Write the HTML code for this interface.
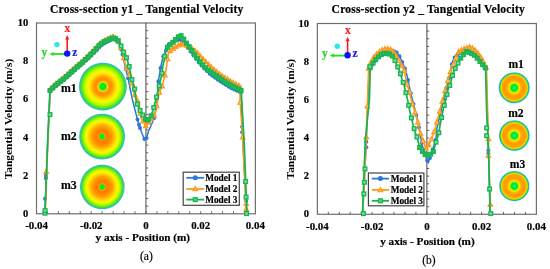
<!DOCTYPE html><html><head><meta charset="utf-8"><style>html,body{margin:0;padding:0;background:#fff;}svg{display:block;filter:blur(0.3px);font-family:"Liberation Serif",serif;}</style></head><body>
<svg width="550" height="269" viewBox="0 0 550 269">
<defs>
<radialGradient id="ga1">
<stop offset="0" stop-color="#00ea26"/><stop offset="0.13" stop-color="#10ea20"/><stop offset="0.19" stop-color="#f0e800"/>
<stop offset="0.24" stop-color="#ff9800"/><stop offset="0.34" stop-color="#ff8c00"/><stop offset="0.44" stop-color="#ffb000"/>
<stop offset="0.54" stop-color="#ffe000"/><stop offset="0.62" stop-color="#f8fa00"/><stop offset="0.72" stop-color="#d0fa00"/>
<stop offset="0.8" stop-color="#a0f400"/><stop offset="0.88" stop-color="#50e820"/><stop offset="0.93" stop-color="#30dc40"/><stop offset="0.965" stop-color="#30b8e0"/><stop offset="1" stop-color="#90d0f6"/>
</radialGradient>
<radialGradient id="ga2">
<stop offset="0" stop-color="#00ea26"/><stop offset="0.1" stop-color="#10ea20"/><stop offset="0.15" stop-color="#ffa000"/>
<stop offset="0.2" stop-color="#ff7c00"/><stop offset="0.32" stop-color="#ff8400"/><stop offset="0.46" stop-color="#ffa400"/>
<stop offset="0.58" stop-color="#ffd400"/><stop offset="0.68" stop-color="#f6fa00"/><stop offset="0.78" stop-color="#c0f800"/>
<stop offset="0.86" stop-color="#70ec10"/><stop offset="0.925" stop-color="#30dc40"/><stop offset="0.965" stop-color="#30b8e0"/><stop offset="1" stop-color="#90d0f6"/>
</radialGradient>
<radialGradient id="gb">
<stop offset="0" stop-color="#20f5c0"/><stop offset="0.1" stop-color="#00ee40"/><stop offset="0.22" stop-color="#00ea30"/>
<stop offset="0.29" stop-color="#c8ee00"/><stop offset="0.36" stop-color="#ffe000"/><stop offset="0.44" stop-color="#ffb000"/>
<stop offset="0.6" stop-color="#ff9800"/><stop offset="0.76" stop-color="#ffa400"/><stop offset="0.83" stop-color="#ffd000"/>
<stop offset="0.87" stop-color="#a0e800"/><stop offset="0.91" stop-color="#20d840"/><stop offset="0.95" stop-color="#20b0d8"/><stop offset="1" stop-color="#70c4f0"/>
</radialGradient>
</defs>
<rect width="550" height="269" fill="#fff"/>
<rect x="36.5" y="23" width="218.9" height="190.8" fill="none" stroke="#6f6f6f" stroke-width="1.2"/>
<line x1="145.95" y1="23" x2="145.95" y2="213.8" stroke="#5c5c5c" stroke-width="1.15"/>
<line x1="145.95" y1="30.63" x2="148.35" y2="30.63" stroke="#555" stroke-width="0.9"/>
<line x1="145.95" y1="38.26" x2="148.35" y2="38.26" stroke="#555" stroke-width="0.9"/>
<line x1="145.95" y1="45.9" x2="148.35" y2="45.9" stroke="#555" stroke-width="0.9"/>
<line x1="145.95" y1="53.53" x2="148.35" y2="53.53" stroke="#555" stroke-width="0.9"/>
<line x1="145.95" y1="61.16" x2="148.35" y2="61.16" stroke="#555" stroke-width="0.9"/>
<line x1="145.95" y1="68.79" x2="148.35" y2="68.79" stroke="#555" stroke-width="0.9"/>
<line x1="145.95" y1="76.42" x2="148.35" y2="76.42" stroke="#555" stroke-width="0.9"/>
<line x1="145.95" y1="84.06" x2="148.35" y2="84.06" stroke="#555" stroke-width="0.9"/>
<line x1="145.95" y1="91.69" x2="148.35" y2="91.69" stroke="#555" stroke-width="0.9"/>
<line x1="145.95" y1="99.32" x2="148.35" y2="99.32" stroke="#555" stroke-width="0.9"/>
<line x1="145.95" y1="106.95" x2="148.35" y2="106.95" stroke="#555" stroke-width="0.9"/>
<line x1="145.95" y1="114.58" x2="148.35" y2="114.58" stroke="#555" stroke-width="0.9"/>
<line x1="145.95" y1="122.22" x2="148.35" y2="122.22" stroke="#555" stroke-width="0.9"/>
<line x1="145.95" y1="129.85" x2="148.35" y2="129.85" stroke="#555" stroke-width="0.9"/>
<line x1="145.95" y1="137.48" x2="148.35" y2="137.48" stroke="#555" stroke-width="0.9"/>
<line x1="145.95" y1="145.11" x2="148.35" y2="145.11" stroke="#555" stroke-width="0.9"/>
<line x1="145.95" y1="152.74" x2="148.35" y2="152.74" stroke="#555" stroke-width="0.9"/>
<line x1="145.95" y1="160.38" x2="148.35" y2="160.38" stroke="#555" stroke-width="0.9"/>
<line x1="145.95" y1="168.01" x2="148.35" y2="168.01" stroke="#555" stroke-width="0.9"/>
<line x1="145.95" y1="175.64" x2="148.35" y2="175.64" stroke="#555" stroke-width="0.9"/>
<line x1="145.95" y1="183.27" x2="148.35" y2="183.27" stroke="#555" stroke-width="0.9"/>
<line x1="145.95" y1="190.9" x2="148.35" y2="190.9" stroke="#555" stroke-width="0.9"/>
<line x1="145.95" y1="198.54" x2="148.35" y2="198.54" stroke="#555" stroke-width="0.9"/>
<line x1="145.95" y1="206.17" x2="148.35" y2="206.17" stroke="#555" stroke-width="0.9"/>
<line x1="47.45" y1="213.8" x2="47.45" y2="211.3" stroke="#555" stroke-width="0.9"/>
<line x1="58.39" y1="213.8" x2="58.39" y2="211.3" stroke="#555" stroke-width="0.9"/>
<line x1="69.34" y1="213.8" x2="69.34" y2="211.3" stroke="#555" stroke-width="0.9"/>
<line x1="80.28" y1="213.8" x2="80.28" y2="211.3" stroke="#555" stroke-width="0.9"/>
<line x1="91.22" y1="213.8" x2="91.22" y2="211.3" stroke="#555" stroke-width="0.9"/>
<line x1="102.17" y1="213.8" x2="102.17" y2="211.3" stroke="#555" stroke-width="0.9"/>
<line x1="113.12" y1="213.8" x2="113.12" y2="211.3" stroke="#555" stroke-width="0.9"/>
<line x1="124.06" y1="213.8" x2="124.06" y2="211.3" stroke="#555" stroke-width="0.9"/>
<line x1="135" y1="213.8" x2="135" y2="211.3" stroke="#555" stroke-width="0.9"/>
<line x1="145.95" y1="213.8" x2="145.95" y2="211.3" stroke="#555" stroke-width="0.9"/>
<line x1="156.9" y1="213.8" x2="156.9" y2="211.3" stroke="#555" stroke-width="0.9"/>
<line x1="167.84" y1="213.8" x2="167.84" y2="211.3" stroke="#555" stroke-width="0.9"/>
<line x1="178.78" y1="213.8" x2="178.78" y2="211.3" stroke="#555" stroke-width="0.9"/>
<line x1="189.73" y1="213.8" x2="189.73" y2="211.3" stroke="#555" stroke-width="0.9"/>
<line x1="200.68" y1="213.8" x2="200.68" y2="211.3" stroke="#555" stroke-width="0.9"/>
<line x1="211.62" y1="213.8" x2="211.62" y2="211.3" stroke="#555" stroke-width="0.9"/>
<line x1="222.56" y1="213.8" x2="222.56" y2="211.3" stroke="#555" stroke-width="0.9"/>
<line x1="233.51" y1="213.8" x2="233.51" y2="211.3" stroke="#555" stroke-width="0.9"/>
<line x1="244.46" y1="213.8" x2="244.46" y2="211.3" stroke="#555" stroke-width="0.9"/>
<text x="28.3" y="216.9" font-size="10.5" font-weight="bold" text-anchor="end" fill="#000" stroke="#000" stroke-width="0.18" >0</text>
<text x="28.3" y="178.74" font-size="10.5" font-weight="bold" text-anchor="end" fill="#000" stroke="#000" stroke-width="0.18" >2</text>
<text x="28.3" y="140.58" font-size="10.5" font-weight="bold" text-anchor="end" fill="#000" stroke="#000" stroke-width="0.18" >4</text>
<text x="28.3" y="102.42" font-size="10.5" font-weight="bold" text-anchor="end" fill="#000" stroke="#000" stroke-width="0.18" >6</text>
<text x="28.3" y="64.26" font-size="10.5" font-weight="bold" text-anchor="end" fill="#000" stroke="#000" stroke-width="0.18" >8</text>
<text x="28.3" y="26.1" font-size="10.5" font-weight="bold" text-anchor="end" fill="#000" stroke="#000" stroke-width="0.18" >10</text>
<text x="36.5" y="228.8" font-size="10.9" font-weight="bold" text-anchor="middle" fill="#000" stroke="#000" stroke-width="0.18" >-0.04</text>
<text x="91.22" y="228.8" font-size="10.9" font-weight="bold" text-anchor="middle" fill="#000" stroke="#000" stroke-width="0.18" >-0.02</text>
<text x="145.95" y="228.8" font-size="10.9" font-weight="bold" text-anchor="middle" fill="#000" stroke="#000" stroke-width="0.18" >0</text>
<text x="200.68" y="228.8" font-size="10.9" font-weight="bold" text-anchor="middle" fill="#000" stroke="#000" stroke-width="0.18" >0.02</text>
<text x="255.4" y="228.8" font-size="10.9" font-weight="bold" text-anchor="middle" fill="#000" stroke="#000" stroke-width="0.18" >0.04</text>
<text transform="translate(11.5 119) rotate(-90)" x="0" y="0" font-size="11.4" font-weight="bold" text-anchor="middle">Tangential Velocity (m/s)</text>
<text x="95.6" y="241.1" font-size="11.2" font-weight="bold" text-anchor="start" fill="#000" stroke="#000" stroke-width="0.18" >y axis - Position (m)</text>
<text x="50" y="12.8" font-size="11.6" font-weight="bold" text-anchor="start" fill="#000" stroke="#000" stroke-width="0.18" letter-spacing="0.18">Cross-section y1 _ Tangential Velocity</text>
<text x="140" y="260.4" font-size="11.5" font-weight="normal" text-anchor="start" fill="#000" stroke="#000" stroke-width="0.18" >(a)</text>
<rect x="317.35" y="23.5" width="219.05" height="190.8" fill="none" stroke="#6f6f6f" stroke-width="1.2"/>
<line x1="426.88" y1="23.5" x2="426.88" y2="214.3" stroke="#5c5c5c" stroke-width="1.15"/>
<line x1="426.88" y1="31.13" x2="429.27" y2="31.13" stroke="#555" stroke-width="0.9"/>
<line x1="426.88" y1="38.76" x2="429.27" y2="38.76" stroke="#555" stroke-width="0.9"/>
<line x1="426.88" y1="46.4" x2="429.27" y2="46.4" stroke="#555" stroke-width="0.9"/>
<line x1="426.88" y1="54.03" x2="429.27" y2="54.03" stroke="#555" stroke-width="0.9"/>
<line x1="426.88" y1="61.66" x2="429.27" y2="61.66" stroke="#555" stroke-width="0.9"/>
<line x1="426.88" y1="69.29" x2="429.27" y2="69.29" stroke="#555" stroke-width="0.9"/>
<line x1="426.88" y1="76.92" x2="429.27" y2="76.92" stroke="#555" stroke-width="0.9"/>
<line x1="426.88" y1="84.56" x2="429.27" y2="84.56" stroke="#555" stroke-width="0.9"/>
<line x1="426.88" y1="92.19" x2="429.27" y2="92.19" stroke="#555" stroke-width="0.9"/>
<line x1="426.88" y1="99.82" x2="429.27" y2="99.82" stroke="#555" stroke-width="0.9"/>
<line x1="426.88" y1="107.45" x2="429.27" y2="107.45" stroke="#555" stroke-width="0.9"/>
<line x1="426.88" y1="115.08" x2="429.27" y2="115.08" stroke="#555" stroke-width="0.9"/>
<line x1="426.88" y1="122.72" x2="429.27" y2="122.72" stroke="#555" stroke-width="0.9"/>
<line x1="426.88" y1="130.35" x2="429.27" y2="130.35" stroke="#555" stroke-width="0.9"/>
<line x1="426.88" y1="137.98" x2="429.27" y2="137.98" stroke="#555" stroke-width="0.9"/>
<line x1="426.88" y1="145.61" x2="429.27" y2="145.61" stroke="#555" stroke-width="0.9"/>
<line x1="426.88" y1="153.24" x2="429.27" y2="153.24" stroke="#555" stroke-width="0.9"/>
<line x1="426.88" y1="160.88" x2="429.27" y2="160.88" stroke="#555" stroke-width="0.9"/>
<line x1="426.88" y1="168.51" x2="429.27" y2="168.51" stroke="#555" stroke-width="0.9"/>
<line x1="426.88" y1="176.14" x2="429.27" y2="176.14" stroke="#555" stroke-width="0.9"/>
<line x1="426.88" y1="183.77" x2="429.27" y2="183.77" stroke="#555" stroke-width="0.9"/>
<line x1="426.88" y1="191.4" x2="429.27" y2="191.4" stroke="#555" stroke-width="0.9"/>
<line x1="426.88" y1="199.04" x2="429.27" y2="199.04" stroke="#555" stroke-width="0.9"/>
<line x1="426.88" y1="206.67" x2="429.27" y2="206.67" stroke="#555" stroke-width="0.9"/>
<line x1="328.3" y1="214.3" x2="328.3" y2="211.8" stroke="#555" stroke-width="0.9"/>
<line x1="339.25" y1="214.3" x2="339.25" y2="211.8" stroke="#555" stroke-width="0.9"/>
<line x1="350.21" y1="214.3" x2="350.21" y2="211.8" stroke="#555" stroke-width="0.9"/>
<line x1="361.16" y1="214.3" x2="361.16" y2="211.8" stroke="#555" stroke-width="0.9"/>
<line x1="372.11" y1="214.3" x2="372.11" y2="211.8" stroke="#555" stroke-width="0.9"/>
<line x1="383.06" y1="214.3" x2="383.06" y2="211.8" stroke="#555" stroke-width="0.9"/>
<line x1="394.02" y1="214.3" x2="394.02" y2="211.8" stroke="#555" stroke-width="0.9"/>
<line x1="404.97" y1="214.3" x2="404.97" y2="211.8" stroke="#555" stroke-width="0.9"/>
<line x1="415.92" y1="214.3" x2="415.92" y2="211.8" stroke="#555" stroke-width="0.9"/>
<line x1="426.88" y1="214.3" x2="426.88" y2="211.8" stroke="#555" stroke-width="0.9"/>
<line x1="437.83" y1="214.3" x2="437.83" y2="211.8" stroke="#555" stroke-width="0.9"/>
<line x1="448.78" y1="214.3" x2="448.78" y2="211.8" stroke="#555" stroke-width="0.9"/>
<line x1="459.73" y1="214.3" x2="459.73" y2="211.8" stroke="#555" stroke-width="0.9"/>
<line x1="470.68" y1="214.3" x2="470.68" y2="211.8" stroke="#555" stroke-width="0.9"/>
<line x1="481.64" y1="214.3" x2="481.64" y2="211.8" stroke="#555" stroke-width="0.9"/>
<line x1="492.59" y1="214.3" x2="492.59" y2="211.8" stroke="#555" stroke-width="0.9"/>
<line x1="503.54" y1="214.3" x2="503.54" y2="211.8" stroke="#555" stroke-width="0.9"/>
<line x1="514.5" y1="214.3" x2="514.5" y2="211.8" stroke="#555" stroke-width="0.9"/>
<line x1="525.45" y1="214.3" x2="525.45" y2="211.8" stroke="#555" stroke-width="0.9"/>
<text x="309.1" y="217.3" font-size="10.5" font-weight="bold" text-anchor="end" fill="#000" stroke="#000" stroke-width="0.18" >0</text>
<text x="309.1" y="179.14" font-size="10.5" font-weight="bold" text-anchor="end" fill="#000" stroke="#000" stroke-width="0.18" >2</text>
<text x="309.1" y="140.98" font-size="10.5" font-weight="bold" text-anchor="end" fill="#000" stroke="#000" stroke-width="0.18" >4</text>
<text x="309.1" y="102.82" font-size="10.5" font-weight="bold" text-anchor="end" fill="#000" stroke="#000" stroke-width="0.18" >6</text>
<text x="309.1" y="64.66" font-size="10.5" font-weight="bold" text-anchor="end" fill="#000" stroke="#000" stroke-width="0.18" >8</text>
<text x="309.1" y="26.5" font-size="10.5" font-weight="bold" text-anchor="end" fill="#000" stroke="#000" stroke-width="0.18" >10</text>
<text x="317.35" y="229.8" font-size="10.9" font-weight="bold" text-anchor="middle" fill="#000" stroke="#000" stroke-width="0.18" >-0.04</text>
<text x="372.11" y="229.8" font-size="10.9" font-weight="bold" text-anchor="middle" fill="#000" stroke="#000" stroke-width="0.18" >-0.02</text>
<text x="426.88" y="229.8" font-size="10.9" font-weight="bold" text-anchor="middle" fill="#000" stroke="#000" stroke-width="0.18" >0</text>
<text x="481.64" y="229.8" font-size="10.9" font-weight="bold" text-anchor="middle" fill="#000" stroke="#000" stroke-width="0.18" >0.02</text>
<text x="536.4" y="229.8" font-size="10.9" font-weight="bold" text-anchor="middle" fill="#000" stroke="#000" stroke-width="0.18" >0.04</text>
<text transform="translate(294.4 119.2) rotate(-90)" x="0" y="0" font-size="11.4" font-weight="bold" text-anchor="middle">Tangential Velocity (m/s)</text>
<text x="380.2" y="244.9" font-size="11.2" font-weight="bold" text-anchor="start" fill="#000" stroke="#000" stroke-width="0.18" >y axis - Position (m)</text>
<text x="331.6" y="12.8" font-size="11.6" font-weight="bold" text-anchor="start" fill="#000" stroke="#000" stroke-width="0.18" letter-spacing="0.18">Cross-section y2 _ Tangential Velocity</text>
<text x="422.2" y="263.6" font-size="11.5" font-weight="normal" text-anchor="start" fill="#000" stroke="#000" stroke-width="0.18" >(b)</text>
<circle cx="102.9" cy="86.6" r="24.1" fill="url(#ga1)"/>
<circle cx="102.1" cy="136.6" r="23.1" fill="url(#ga2)"/>
<circle cx="102.3" cy="187.0" r="22.5" fill="url(#ga2)"/>
<text x="61" y="91.7" font-size="11.8" font-weight="bold" text-anchor="start" fill="#000" stroke="#000" stroke-width="0.18" >m1</text>
<text x="61" y="140.3" font-size="11.8" font-weight="bold" text-anchor="start" fill="#000" stroke="#000" stroke-width="0.18" >m2</text>
<text x="61" y="189" font-size="11.8" font-weight="bold" text-anchor="start" fill="#000" stroke="#000" stroke-width="0.18" >m3</text>
<circle cx="514.2" cy="87.8" r="15.6" fill="url(#gb)"/>
<circle cx="514.3" cy="135.6" r="15.4" fill="url(#gb)"/>
<circle cx="514.3" cy="186.1" r="15.2" fill="url(#gb)"/>
<text x="508.4" y="67.9" font-size="11.6" font-weight="bold" text-anchor="start" fill="#000" stroke="#000" stroke-width="0.18" >m1</text>
<text x="508.2" y="117" font-size="11.6" font-weight="bold" text-anchor="start" fill="#000" stroke="#000" stroke-width="0.18" >m2</text>
<text x="509.8" y="168" font-size="11.6" font-weight="bold" text-anchor="start" fill="#000" stroke="#000" stroke-width="0.18" >m3</text>
<line x1="67.2" y1="53.6" x2="67.2" y2="38.6" stroke="#ff1a1a" stroke-width="1.6"/>
<path d="M67.2 35.1L65.2 39.6L69.2 39.6Z" fill="#ff1a1a"/>
<line x1="67.2" y1="54" x2="53.2" y2="54" stroke="#19e619" stroke-width="1.8"/>
<path d="M49.6 54L53.7 52L53.7 56Z" fill="#19e619"/>
<circle cx="67.2" cy="53.6" r="3.2" fill="#0a14f0"/>
<circle cx="56.9" cy="44.6" r="2.7" fill="#2ee6f2"/>
<text x="64.6" y="32.4" font-size="11.5" font-weight="bold" text-anchor="start" fill="#ff1a1a" stroke="#ff1a1a" stroke-width="0.18" >x</text>
<text x="72.2" y="55.7" font-size="11.5" font-weight="bold" text-anchor="start" fill="#1a1aee" stroke="#1a1aee" stroke-width="0.18" >z</text>
<text x="41.6" y="55.7" font-size="11.5" font-weight="bold" text-anchor="start" fill="#19d619" stroke="#19d619" stroke-width="0.18" >y</text>
<line x1="347.6" y1="55.2" x2="347.6" y2="40.2" stroke="#ff1a1a" stroke-width="1.6"/>
<path d="M347.6 36.7L345.6 41.2L349.6 41.2Z" fill="#ff1a1a"/>
<line x1="347.6" y1="55.6" x2="333.6" y2="55.6" stroke="#19e619" stroke-width="1.8"/>
<path d="M330 55.6L334.1 53.6L334.1 57.6Z" fill="#19e619"/>
<circle cx="347.6" cy="55.2" r="3.2" fill="#0a14f0"/>
<circle cx="337.3" cy="46.2" r="2.7" fill="#2ee6f2"/>
<text x="345" y="34" font-size="11.5" font-weight="bold" text-anchor="start" fill="#ff1a1a" stroke="#ff1a1a" stroke-width="0.18" >x</text>
<text x="352.6" y="57.3" font-size="11.5" font-weight="bold" text-anchor="start" fill="#1a1aee" stroke="#1a1aee" stroke-width="0.18" >z</text>
<text x="322" y="57.3" font-size="11.5" font-weight="bold" text-anchor="start" fill="#19d619" stroke="#19d619" stroke-width="0.18" >y</text>

<polyline fill="none" stroke="#2b78d8" stroke-width="1.5" stroke-linejoin="round" points="45,213.3 47.6,145 50,91 55.4,86.6 63.2,80.6 70,74.6 76.7,68.6 83.4,63 90.1,56.8 95.5,51.5 99.5,47 103.9,43.5 108.4,41.2 112.5,39.3 116,40 119.5,44 122.5,54.5 125.8,69 128.1,78.3 130,88 132.5,100 135,110 137.5,119.5 139,124.7 140,128 142.2,134 144.4,139 146.4,138.2 148.6,131 151.5,124.5 153.9,118.3 155.5,111 156.7,106 157.5,95 158.4,81.2 160.5,68 163,57 166.7,49 168.6,44.6 173.4,42.2 179.3,39.5 184.7,43.5 190.6,51.5 198.1,61.5 204,68.2 210,74.2 217.4,79.4 224.9,84.4 232.3,88.8 241,92.5 242.1,126.7 246.6,213.3"/>
<circle cx="50" cy="91" r="2.0" fill="#2b78d8"/>
<circle cx="52.73" cy="88.78" r="2.0" fill="#2b78d8"/>
<circle cx="55.46" cy="86.55" r="2.0" fill="#2b78d8"/>
<circle cx="58.19" cy="84.45" r="2.0" fill="#2b78d8"/>
<circle cx="60.92" cy="82.35" r="2.0" fill="#2b78d8"/>
<circle cx="63.65" cy="80.2" r="2.0" fill="#2b78d8"/>
<circle cx="66.38" cy="77.79" r="2.0" fill="#2b78d8"/>
<circle cx="69.11" cy="75.39" r="2.0" fill="#2b78d8"/>
<circle cx="71.84" cy="72.95" r="2.0" fill="#2b78d8"/>
<circle cx="74.57" cy="70.51" r="2.0" fill="#2b78d8"/>
<circle cx="77.3" cy="68.1" r="2.0" fill="#2b78d8"/>
<circle cx="80.03" cy="65.82" r="2.0" fill="#2b78d8"/>
<circle cx="82.76" cy="63.53" r="2.0" fill="#2b78d8"/>
<circle cx="85.49" cy="61.07" r="2.0" fill="#2b78d8"/>
<circle cx="88.22" cy="58.54" r="2.0" fill="#2b78d8"/>
<circle cx="90.95" cy="55.97" r="2.0" fill="#2b78d8"/>
<circle cx="93.68" cy="53.29" r="2.0" fill="#2b78d8"/>
<circle cx="96.41" cy="50.48" r="2.0" fill="#2b78d8"/>
<circle cx="99.14" cy="47.41" r="2.0" fill="#2b78d8"/>
<circle cx="101.87" cy="45.11" r="2.0" fill="#2b78d8"/>
<circle cx="104.6" cy="43.14" r="2.0" fill="#2b78d8"/>
<circle cx="107.33" cy="41.75" r="2.0" fill="#2b78d8"/>
<circle cx="110.06" cy="40.43" r="2.0" fill="#2b78d8"/>
<circle cx="112.79" cy="39.36" r="2.0" fill="#2b78d8"/>
<circle cx="115.52" cy="39.9" r="2.0" fill="#2b78d8"/>
<circle cx="118.25" cy="42.57" r="2.0" fill="#2b78d8"/>
<circle cx="120.98" cy="49.18" r="2.0" fill="#2b78d8"/>
<circle cx="122.5" cy="54.5" r="2.0" fill="#2b78d8"/>
<circle cx="160.5" cy="68" r="2.0" fill="#2b78d8"/>
<circle cx="163.23" cy="56.5" r="2.0" fill="#2b78d8"/>
<circle cx="165.96" cy="50.6" r="2.0" fill="#2b78d8"/>
<circle cx="168.69" cy="44.55" r="2.0" fill="#2b78d8"/>
<circle cx="171.42" cy="43.19" r="2.0" fill="#2b78d8"/>
<circle cx="174.15" cy="41.86" r="2.0" fill="#2b78d8"/>
<circle cx="176.88" cy="40.61" r="2.0" fill="#2b78d8"/>
<circle cx="179.61" cy="39.73" r="2.0" fill="#2b78d8"/>
<circle cx="182.34" cy="41.75" r="2.0" fill="#2b78d8"/>
<circle cx="185.07" cy="44" r="2.0" fill="#2b78d8"/>
<circle cx="187.8" cy="47.7" r="2.0" fill="#2b78d8"/>
<circle cx="190.53" cy="51.41" r="2.0" fill="#2b78d8"/>
<circle cx="193.26" cy="55.05" r="2.0" fill="#2b78d8"/>
<circle cx="195.99" cy="58.69" r="2.0" fill="#2b78d8"/>
<circle cx="198.72" cy="62.2" r="2.0" fill="#2b78d8"/>
<circle cx="201.45" cy="65.3" r="2.0" fill="#2b78d8"/>
<circle cx="204.18" cy="68.38" r="2.0" fill="#2b78d8"/>
<circle cx="206.91" cy="71.11" r="2.0" fill="#2b78d8"/>
<circle cx="209.64" cy="73.84" r="2.0" fill="#2b78d8"/>
<circle cx="212.37" cy="75.87" r="2.0" fill="#2b78d8"/>
<circle cx="215.1" cy="77.78" r="2.0" fill="#2b78d8"/>
<circle cx="217.83" cy="79.69" r="2.0" fill="#2b78d8"/>
<circle cx="220.56" cy="81.51" r="2.0" fill="#2b78d8"/>
<circle cx="223.29" cy="83.33" r="2.0" fill="#2b78d8"/>
<circle cx="226.02" cy="85.07" r="2.0" fill="#2b78d8"/>
<circle cx="228.75" cy="86.69" r="2.0" fill="#2b78d8"/>
<circle cx="231.48" cy="88.31" r="2.0" fill="#2b78d8"/>
<circle cx="234.21" cy="89.61" r="2.0" fill="#2b78d8"/>
<circle cx="236.94" cy="90.77" r="2.0" fill="#2b78d8"/>
<circle cx="239.67" cy="91.93" r="2.0" fill="#2b78d8"/>
<circle cx="241" cy="92.5" r="2.0" fill="#2b78d8"/>
<circle cx="45.9" cy="175.7" r="2.0" fill="#2b78d8"/>
<circle cx="45.9" cy="178.3" r="2.0" fill="#2b78d8"/>
<circle cx="45" cy="198.7" r="2.0" fill="#2b78d8"/>
<circle cx="242.1" cy="126.7" r="2.0" fill="#2b78d8"/>
<circle cx="242.1" cy="132.3" r="2.0" fill="#2b78d8"/>
<circle cx="246.2" cy="201" r="2.0" fill="#2b78d8"/>
<circle cx="125.8" cy="69" r="2.0" fill="#2b78d8"/>
<circle cx="128.1" cy="78.3" r="2.0" fill="#2b78d8"/>
<circle cx="137.5" cy="119.5" r="2.0" fill="#2b78d8"/>
<circle cx="139" cy="124.7" r="2.0" fill="#2b78d8"/>
<circle cx="140" cy="128" r="2.0" fill="#2b78d8"/>
<circle cx="144.4" cy="139" r="2.0" fill="#2b78d8"/>
<circle cx="146.4" cy="138.2" r="2.0" fill="#2b78d8"/>
<circle cx="153.9" cy="118.3" r="2.0" fill="#2b78d8"/>
<circle cx="156.7" cy="106" r="2.0" fill="#2b78d8"/>
<circle cx="158.4" cy="81.2" r="2.0" fill="#2b78d8"/>

<polyline fill="none" stroke="#fb9a1c" stroke-width="1.6" stroke-linejoin="round" points="45.2,213.3 47.8,145 50.2,89.3 55.4,84.2 63.2,78.1 70,72.1 76.7,66.1 83.4,60.4 90.1,53.9 95.5,48.3 99.5,43.8 103.9,40.8 108.4,38.8 113.5,36.5 117.3,39.3 120.1,44.5 122.5,52 124.1,58.9 125.2,64.5 128.6,73.4 131.5,80 133.6,92 136.5,99 139.4,104 139.8,111.2 141.4,118.5 144.7,124 145.8,126.2 149.2,121.7 152,117.5 154.8,114.5 157.2,104 159.2,93 162.1,86.4 165.8,71.5 168.4,53.5 171.8,49.3 175.9,46.8 180.1,44.2 184.3,44.2 190,47.5 196.4,51.8 201.5,57.5 206.5,62.5 210,66.2 217.4,72.5 224.9,77.8 232.3,82.2 239.7,86.5 240.2,102.5 242.6,137.2 246.4,213.3"/>
<path d="M50.2 86.87L47.95 90.92L52.45 90.92Z" fill="#fca13a" stroke="#fb9a1c" stroke-width="1.2"/>
<path d="M52.93 84.19L50.68 88.24L55.18 88.24Z" fill="#fca13a" stroke="#fb9a1c" stroke-width="1.2"/>
<path d="M55.66 81.57L53.41 85.62L57.91 85.62Z" fill="#fca13a" stroke="#fb9a1c" stroke-width="1.2"/>
<path d="M58.39 79.43L56.14 83.48L60.64 83.48Z" fill="#fca13a" stroke="#fb9a1c" stroke-width="1.2"/>
<path d="M61.12 77.3L58.87 81.35L63.37 81.35Z" fill="#fca13a" stroke="#fb9a1c" stroke-width="1.2"/>
<path d="M63.85 75.1L61.6 79.15L66.1 79.15Z" fill="#fca13a" stroke="#fb9a1c" stroke-width="1.2"/>
<path d="M66.58 72.69L64.33 76.74L68.83 76.74Z" fill="#fca13a" stroke="#fb9a1c" stroke-width="1.2"/>
<path d="M69.31 70.28L67.06 74.33L71.56 74.33Z" fill="#fca13a" stroke="#fb9a1c" stroke-width="1.2"/>
<path d="M72.04 67.84L69.79 71.89L74.29 71.89Z" fill="#fca13a" stroke="#fb9a1c" stroke-width="1.2"/>
<path d="M74.77 65.4L72.52 69.45L77.02 69.45Z" fill="#fca13a" stroke="#fb9a1c" stroke-width="1.2"/>
<path d="M77.5 62.99L75.25 67.04L79.75 67.04Z" fill="#fca13a" stroke="#fb9a1c" stroke-width="1.2"/>
<path d="M80.23 60.67L77.98 64.72L82.48 64.72Z" fill="#fca13a" stroke="#fb9a1c" stroke-width="1.2"/>
<path d="M82.96 58.34L80.71 62.39L85.21 62.39Z" fill="#fca13a" stroke="#fb9a1c" stroke-width="1.2"/>
<path d="M85.69 55.75L83.44 59.8L87.94 59.8Z" fill="#fca13a" stroke="#fb9a1c" stroke-width="1.2"/>
<path d="M88.42 53.1L86.17 57.15L90.67 57.15Z" fill="#fca13a" stroke="#fb9a1c" stroke-width="1.2"/>
<path d="M91.15 50.38L88.9 54.43L93.4 54.43Z" fill="#fca13a" stroke="#fb9a1c" stroke-width="1.2"/>
<path d="M93.88 47.55L91.63 51.6L96.13 51.6Z" fill="#fca13a" stroke="#fb9a1c" stroke-width="1.2"/>
<path d="M96.61 44.62L94.36 48.67L98.86 48.67Z" fill="#fca13a" stroke="#fb9a1c" stroke-width="1.2"/>
<path d="M99.34 41.55L97.09 45.6L101.59 45.6Z" fill="#fca13a" stroke="#fb9a1c" stroke-width="1.2"/>
<path d="M102.07 39.62L99.82 43.67L104.32 43.67Z" fill="#fca13a" stroke="#fb9a1c" stroke-width="1.2"/>
<path d="M104.8 37.97L102.55 42.02L107.05 42.02Z" fill="#fca13a" stroke="#fb9a1c" stroke-width="1.2"/>
<path d="M107.53 36.76L105.28 40.81L109.78 40.81Z" fill="#fca13a" stroke="#fb9a1c" stroke-width="1.2"/>
<path d="M110.26 35.53L108.01 39.58L112.51 39.58Z" fill="#fca13a" stroke="#fb9a1c" stroke-width="1.2"/>
<path d="M112.99 34.3L110.74 38.35L115.24 38.35Z" fill="#fca13a" stroke="#fb9a1c" stroke-width="1.2"/>
<path d="M115.72 35.71L113.47 39.76L117.97 39.76Z" fill="#fca13a" stroke="#fb9a1c" stroke-width="1.2"/>
<path d="M118.45 39.01L116.2 43.06L120.7 43.06Z" fill="#fca13a" stroke="#fb9a1c" stroke-width="1.2"/>
<path d="M121.18 45.45L118.93 49.5L123.43 49.5Z" fill="#ffc772" stroke="#fb9a1c" stroke-width="1.2"/>
<path d="M123.91 55.65L121.66 59.7L126.16 59.7Z" fill="#ffc772" stroke="#fb9a1c" stroke-width="1.2"/>
<path d="M126.64 65.84L124.39 69.89L128.89 69.89Z" fill="#ffc772" stroke="#fb9a1c" stroke-width="1.2"/>
<path d="M129.37 72.72L127.12 76.77L131.62 76.77Z" fill="#ffc772" stroke="#fb9a1c" stroke-width="1.2"/>
<path d="M132.1 81L129.85 85.05L134.35 85.05Z" fill="#ffc772" stroke="#fb9a1c" stroke-width="1.2"/>
<path d="M134.83 92.54L132.58 96.59L137.08 96.59Z" fill="#ffc772" stroke="#fb9a1c" stroke-width="1.2"/>
<path d="M137.56 98.4L135.31 102.45L139.81 102.45Z" fill="#ffc772" stroke="#fb9a1c" stroke-width="1.2"/>
<path d="M140.29 111.01L138.04 115.06L142.54 115.06Z" fill="#ffc772" stroke="#fb9a1c" stroke-width="1.2"/>
<path d="M143.02 118.77L140.77 122.82L145.27 122.82Z" fill="#ffc772" stroke="#fb9a1c" stroke-width="1.2"/>
<path d="M145.75 123.67L143.5 127.72L148 127.72Z" fill="#fca13a" stroke="#fb9a1c" stroke-width="1.2"/>
<path d="M148.48 120.22L146.23 124.27L150.73 124.27Z" fill="#fca13a" stroke="#fb9a1c" stroke-width="1.2"/>
<path d="M151.21 116.25L148.96 120.3L153.46 120.3Z" fill="#fca13a" stroke="#fb9a1c" stroke-width="1.2"/>
<path d="M153.94 112.99L151.69 117.04L156.19 117.04Z" fill="#fca13a" stroke="#fb9a1c" stroke-width="1.2"/>
<path d="M156.67 103.89L154.42 107.94L158.92 107.94Z" fill="#ffc772" stroke="#fb9a1c" stroke-width="1.2"/>
<path d="M159.4 90.11L157.15 94.16L161.65 94.16Z" fill="#ffc772" stroke="#fb9a1c" stroke-width="1.2"/>
<path d="M162.13 83.85L159.88 87.9L164.38 87.9Z" fill="#ffc772" stroke="#fb9a1c" stroke-width="1.2"/>
<path d="M164.86 72.86L162.61 76.91L167.11 76.91Z" fill="#ffc772" stroke="#fb9a1c" stroke-width="1.2"/>
<path d="M167.59 56.68L165.34 60.73L169.84 60.73Z" fill="#ffc772" stroke="#fb9a1c" stroke-width="1.2"/>
<path d="M170.32 48.7L168.07 52.75L172.57 52.75Z" fill="#fca13a" stroke="#fb9a1c" stroke-width="1.2"/>
<path d="M173.05 46.11L170.8 50.16L175.3 50.16Z" fill="#fca13a" stroke="#fb9a1c" stroke-width="1.2"/>
<path d="M175.78 44.44L173.53 48.49L178.03 48.49Z" fill="#fca13a" stroke="#fb9a1c" stroke-width="1.2"/>
<path d="M178.51 42.75L176.26 46.8L180.76 46.8Z" fill="#fca13a" stroke="#fb9a1c" stroke-width="1.2"/>
<path d="M181.24 41.77L178.99 45.82L183.49 45.82Z" fill="#fca13a" stroke="#fb9a1c" stroke-width="1.2"/>
<path d="M183.97 41.77L181.72 45.82L186.22 45.82Z" fill="#fca13a" stroke="#fb9a1c" stroke-width="1.2"/>
<path d="M186.7 43.16L184.45 47.21L188.95 47.21Z" fill="#fca13a" stroke="#fb9a1c" stroke-width="1.2"/>
<path d="M189.43 44.74L187.18 48.79L191.68 48.79Z" fill="#fca13a" stroke="#fb9a1c" stroke-width="1.2"/>
<path d="M192.16 46.52L189.91 50.57L194.41 50.57Z" fill="#fca13a" stroke="#fb9a1c" stroke-width="1.2"/>
<path d="M194.89 48.36L192.64 52.41L197.14 52.41Z" fill="#fca13a" stroke="#fb9a1c" stroke-width="1.2"/>
<path d="M197.62 50.73L195.37 54.78L199.87 54.78Z" fill="#fca13a" stroke="#fb9a1c" stroke-width="1.2"/>
<path d="M200.35 53.78L198.1 57.83L202.6 57.83Z" fill="#fca13a" stroke="#fb9a1c" stroke-width="1.2"/>
<path d="M203.08 56.65L200.83 60.7L205.33 60.7Z" fill="#fca13a" stroke="#fb9a1c" stroke-width="1.2"/>
<path d="M205.81 59.38L203.56 63.43L208.06 63.43Z" fill="#fca13a" stroke="#fb9a1c" stroke-width="1.2"/>
<path d="M208.54 62.23L206.29 66.28L210.79 66.28Z" fill="#fca13a" stroke="#fb9a1c" stroke-width="1.2"/>
<path d="M211.27 64.85L209.02 68.9L213.52 68.9Z" fill="#fca13a" stroke="#fb9a1c" stroke-width="1.2"/>
<path d="M214 67.18L211.75 71.23L216.25 71.23Z" fill="#fca13a" stroke="#fb9a1c" stroke-width="1.2"/>
<path d="M216.73 69.5L214.48 73.55L218.98 73.55Z" fill="#fca13a" stroke="#fb9a1c" stroke-width="1.2"/>
<path d="M219.46 71.53L217.21 75.58L221.71 75.58Z" fill="#fca13a" stroke="#fb9a1c" stroke-width="1.2"/>
<path d="M222.19 73.45L219.94 77.5L224.44 77.5Z" fill="#fca13a" stroke="#fb9a1c" stroke-width="1.2"/>
<path d="M224.92 75.38L222.67 79.43L227.17 79.43Z" fill="#fca13a" stroke="#fb9a1c" stroke-width="1.2"/>
<path d="M227.65 77.01L225.4 81.06L229.9 81.06Z" fill="#fca13a" stroke="#fb9a1c" stroke-width="1.2"/>
<path d="M230.38 78.63L228.13 82.68L232.63 82.68Z" fill="#fca13a" stroke="#fb9a1c" stroke-width="1.2"/>
<path d="M233.11 80.24L230.86 84.29L235.36 84.29Z" fill="#fca13a" stroke="#fb9a1c" stroke-width="1.2"/>
<path d="M235.84 81.83L233.59 85.88L238.09 85.88Z" fill="#fca13a" stroke="#fb9a1c" stroke-width="1.2"/>
<path d="M238.57 83.41L236.32 87.46L240.82 87.46Z" fill="#fca13a" stroke="#fb9a1c" stroke-width="1.2"/>
<path d="M239.7 84.07L237.45 88.12L241.95 88.12Z" fill="#fca13a" stroke="#fb9a1c" stroke-width="1.2"/>
<path d="M46.2 169.37L43.95 173.42L48.45 173.42Z" fill="#ffc772" stroke="#fb9a1c" stroke-width="1.2"/>
<path d="M240.2 100.07L237.95 104.12L242.45 104.12Z" fill="#ffc772" stroke="#fb9a1c" stroke-width="1.2"/>
<path d="M242.6 134.77L240.35 138.82L244.85 138.82Z" fill="#ffc772" stroke="#fb9a1c" stroke-width="1.2"/>
<path d="M246.3 201.37L244.05 205.42L248.55 205.42Z" fill="#ffc772" stroke="#fb9a1c" stroke-width="1.2"/>
<path d="M246.3 206.77L244.05 210.82L248.55 210.82Z" fill="#ffc772" stroke="#fb9a1c" stroke-width="1.2"/>

<polyline fill="none" stroke="#16b450" stroke-width="1.7" stroke-linejoin="round" points="44.9,213.3 47.5,145 50,90.5 55.4,85.4 63.2,79.3 70,73.3 76.7,67.3 83.4,61.5 90.1,55 95.5,49.5 99.5,45 103.9,41.8 108.4,39.8 112.3,37.8 117.3,39.1 120.1,43.6 122.5,50 125.8,55.6 127.5,61.1 129.1,66.2 130.3,72.3 132,80 134.5,88 135.8,98.7 137.6,105 139.4,109.4 141.4,112.5 144.7,118.4 147,121.2 150.3,117.8 153.1,110 155.5,101 158.7,88 161.7,75 163,65 164.2,60.2 165,53.5 167.6,46.8 171.8,43.4 175.9,39.2 180.1,35 182.6,36.7 184.7,40.9 190.6,48.4 194.8,55.1 201.5,63.5 207.3,69.4 210,71.2 217.4,76.4 224.9,81.6 232.3,86 241.2,90.5 244.3,145 246.9,213.3"/>
<rect x="48.15" y="88.65" width="3.7" height="3.7" fill="#2cba5e" stroke="#16b450" stroke-width="1.3"/>
<rect x="50.88" y="86.07" width="3.7" height="3.7" fill="#2cba5e" stroke="#16b450" stroke-width="1.3"/>
<rect x="53.61" y="83.5" width="3.7" height="3.7" fill="#2cba5e" stroke="#16b450" stroke-width="1.3"/>
<rect x="56.34" y="81.37" width="3.7" height="3.7" fill="#2cba5e" stroke="#16b450" stroke-width="1.3"/>
<rect x="59.07" y="79.23" width="3.7" height="3.7" fill="#2cba5e" stroke="#16b450" stroke-width="1.3"/>
<rect x="61.8" y="77.05" width="3.7" height="3.7" fill="#2cba5e" stroke="#16b450" stroke-width="1.3"/>
<rect x="64.53" y="74.64" width="3.7" height="3.7" fill="#2cba5e" stroke="#16b450" stroke-width="1.3"/>
<rect x="67.26" y="72.24" width="3.7" height="3.7" fill="#2cba5e" stroke="#16b450" stroke-width="1.3"/>
<rect x="69.99" y="69.8" width="3.7" height="3.7" fill="#2cba5e" stroke="#16b450" stroke-width="1.3"/>
<rect x="72.72" y="67.36" width="3.7" height="3.7" fill="#2cba5e" stroke="#16b450" stroke-width="1.3"/>
<rect x="75.45" y="64.93" width="3.7" height="3.7" fill="#2cba5e" stroke="#16b450" stroke-width="1.3"/>
<rect x="78.18" y="62.57" width="3.7" height="3.7" fill="#2cba5e" stroke="#16b450" stroke-width="1.3"/>
<rect x="80.91" y="60.2" width="3.7" height="3.7" fill="#2cba5e" stroke="#16b450" stroke-width="1.3"/>
<rect x="83.64" y="57.62" width="3.7" height="3.7" fill="#2cba5e" stroke="#16b450" stroke-width="1.3"/>
<rect x="86.37" y="54.97" width="3.7" height="3.7" fill="#2cba5e" stroke="#16b450" stroke-width="1.3"/>
<rect x="89.1" y="52.28" width="3.7" height="3.7" fill="#2cba5e" stroke="#16b450" stroke-width="1.3"/>
<rect x="91.83" y="49.5" width="3.7" height="3.7" fill="#2cba5e" stroke="#16b450" stroke-width="1.3"/>
<rect x="94.56" y="46.63" width="3.7" height="3.7" fill="#2cba5e" stroke="#16b450" stroke-width="1.3"/>
<rect x="97.29" y="43.55" width="3.7" height="3.7" fill="#2cba5e" stroke="#16b450" stroke-width="1.3"/>
<rect x="100.02" y="41.43" width="3.7" height="3.7" fill="#2cba5e" stroke="#16b450" stroke-width="1.3"/>
<rect x="102.75" y="39.64" width="3.7" height="3.7" fill="#2cba5e" stroke="#16b450" stroke-width="1.3"/>
<rect x="105.48" y="38.43" width="3.7" height="3.7" fill="#2cba5e" stroke="#16b450" stroke-width="1.3"/>
<rect x="108.21" y="37.1" width="3.7" height="3.7" fill="#2cba5e" stroke="#16b450" stroke-width="1.3"/>
<rect x="110.94" y="36.08" width="3.7" height="3.7" fill="#2cba5e" stroke="#16b450" stroke-width="1.3"/>
<rect x="113.67" y="36.79" width="3.7" height="3.7" fill="#2cba5e" stroke="#16b450" stroke-width="1.3"/>
<rect x="116.4" y="38.78" width="3.7" height="3.7" fill="#2cba5e" stroke="#16b450" stroke-width="1.3"/>
<rect x="119.13" y="44.1" width="3.7" height="3.7" fill="#86d8a2" stroke="#16b450" stroke-width="1.3"/>
<rect x="121.86" y="50.2" width="3.7" height="3.7" fill="#86d8a2" stroke="#16b450" stroke-width="1.3"/>
<rect x="124.59" y="55.82" width="3.7" height="3.7" fill="#86d8a2" stroke="#16b450" stroke-width="1.3"/>
<rect x="127.32" y="64.71" width="3.7" height="3.7" fill="#86d8a2" stroke="#16b450" stroke-width="1.3"/>
<rect x="130.05" y="77.7" width="3.7" height="3.7" fill="#86d8a2" stroke="#16b450" stroke-width="1.3"/>
<rect x="132.78" y="87.22" width="3.7" height="3.7" fill="#86d8a2" stroke="#16b450" stroke-width="1.3"/>
<rect x="135.51" y="102.31" width="3.7" height="3.7" fill="#86d8a2" stroke="#16b450" stroke-width="1.3"/>
<rect x="138.24" y="108.62" width="3.7" height="3.7" fill="#86d8a2" stroke="#16b450" stroke-width="1.3"/>
<rect x="140.97" y="113.19" width="3.7" height="3.7" fill="#86d8a2" stroke="#16b450" stroke-width="1.3"/>
<rect x="143.7" y="117.58" width="3.7" height="3.7" fill="#2cba5e" stroke="#16b450" stroke-width="1.3"/>
<rect x="146.43" y="118.03" width="3.7" height="3.7" fill="#2cba5e" stroke="#16b450" stroke-width="1.3"/>
<rect x="149.16" y="113.97" width="3.7" height="3.7" fill="#2cba5e" stroke="#16b450" stroke-width="1.3"/>
<rect x="151.89" y="105.75" width="3.7" height="3.7" fill="#86d8a2" stroke="#16b450" stroke-width="1.3"/>
<rect x="154.62" y="95.21" width="3.7" height="3.7" fill="#86d8a2" stroke="#16b450" stroke-width="1.3"/>
<rect x="157.35" y="83.98" width="3.7" height="3.7" fill="#86d8a2" stroke="#16b450" stroke-width="1.3"/>
<rect x="160.08" y="71.38" width="3.7" height="3.7" fill="#86d8a2" stroke="#16b450" stroke-width="1.3"/>
<rect x="162.81" y="54.5" width="3.7" height="3.7" fill="#86d8a2" stroke="#16b450" stroke-width="1.3"/>
<rect x="165.54" y="45.49" width="3.7" height="3.7" fill="#2cba5e" stroke="#16b450" stroke-width="1.3"/>
<rect x="168.27" y="42.91" width="3.7" height="3.7" fill="#2cba5e" stroke="#16b450" stroke-width="1.3"/>
<rect x="171" y="40.47" width="3.7" height="3.7" fill="#2cba5e" stroke="#16b450" stroke-width="1.3"/>
<rect x="173.73" y="37.68" width="3.7" height="3.7" fill="#2cba5e" stroke="#16b450" stroke-width="1.3"/>
<rect x="176.46" y="34.94" width="3.7" height="3.7" fill="#2cba5e" stroke="#16b450" stroke-width="1.3"/>
<rect x="179.19" y="33.79" width="3.7" height="3.7" fill="#2cba5e" stroke="#16b450" stroke-width="1.3"/>
<rect x="181.92" y="37.19" width="3.7" height="3.7" fill="#2cba5e" stroke="#16b450" stroke-width="1.3"/>
<rect x="184.65" y="41.34" width="3.7" height="3.7" fill="#2cba5e" stroke="#16b450" stroke-width="1.3"/>
<rect x="187.38" y="44.81" width="3.7" height="3.7" fill="#2cba5e" stroke="#16b450" stroke-width="1.3"/>
<rect x="190.11" y="48.72" width="3.7" height="3.7" fill="#2cba5e" stroke="#16b450" stroke-width="1.3"/>
<rect x="192.84" y="53.07" width="3.7" height="3.7" fill="#2cba5e" stroke="#16b450" stroke-width="1.3"/>
<rect x="195.57" y="56.53" width="3.7" height="3.7" fill="#2cba5e" stroke="#16b450" stroke-width="1.3"/>
<rect x="198.3" y="59.96" width="3.7" height="3.7" fill="#2cba5e" stroke="#16b450" stroke-width="1.3"/>
<rect x="201.03" y="63.05" width="3.7" height="3.7" fill="#2cba5e" stroke="#16b450" stroke-width="1.3"/>
<rect x="203.76" y="65.83" width="3.7" height="3.7" fill="#2cba5e" stroke="#16b450" stroke-width="1.3"/>
<rect x="206.49" y="68.24" width="3.7" height="3.7" fill="#2cba5e" stroke="#16b450" stroke-width="1.3"/>
<rect x="209.22" y="70.1" width="3.7" height="3.7" fill="#2cba5e" stroke="#16b450" stroke-width="1.3"/>
<rect x="211.95" y="72.02" width="3.7" height="3.7" fill="#2cba5e" stroke="#16b450" stroke-width="1.3"/>
<rect x="214.68" y="73.94" width="3.7" height="3.7" fill="#2cba5e" stroke="#16b450" stroke-width="1.3"/>
<rect x="217.41" y="75.84" width="3.7" height="3.7" fill="#2cba5e" stroke="#16b450" stroke-width="1.3"/>
<rect x="220.14" y="77.73" width="3.7" height="3.7" fill="#2cba5e" stroke="#16b450" stroke-width="1.3"/>
<rect x="222.87" y="79.63" width="3.7" height="3.7" fill="#2cba5e" stroke="#16b450" stroke-width="1.3"/>
<rect x="225.6" y="81.27" width="3.7" height="3.7" fill="#2cba5e" stroke="#16b450" stroke-width="1.3"/>
<rect x="228.33" y="82.89" width="3.7" height="3.7" fill="#2cba5e" stroke="#16b450" stroke-width="1.3"/>
<rect x="231.06" y="84.46" width="3.7" height="3.7" fill="#2cba5e" stroke="#16b450" stroke-width="1.3"/>
<rect x="233.79" y="85.84" width="3.7" height="3.7" fill="#2cba5e" stroke="#16b450" stroke-width="1.3"/>
<rect x="236.52" y="87.22" width="3.7" height="3.7" fill="#2cba5e" stroke="#16b450" stroke-width="1.3"/>
<rect x="239.25" y="88.6" width="3.7" height="3.7" fill="#2cba5e" stroke="#16b450" stroke-width="1.3"/>
<rect x="48.15" y="112.75" width="3.7" height="3.7" fill="#86d8a2" stroke="#16b450" stroke-width="1.3"/>
<rect x="43.15" y="211.35" width="3.7" height="3.7" fill="#86d8a2" stroke="#16b450" stroke-width="1.3"/>
<rect x="43.25" y="208.75" width="3.7" height="3.7" fill="#86d8a2" stroke="#16b450" stroke-width="1.3"/>
<rect x="243.75" y="179.65" width="3.7" height="3.7" fill="#86d8a2" stroke="#16b450" stroke-width="1.3"/>
<rect x="244.25" y="195.25" width="3.7" height="3.7" fill="#86d8a2" stroke="#16b450" stroke-width="1.3"/>
<rect x="244.75" y="211.75" width="3.7" height="3.7" fill="#86d8a2" stroke="#16b450" stroke-width="1.3"/>

<polyline fill="none" stroke="#2b78d8" stroke-width="1.5" stroke-linejoin="round" points="362.6,213.8 366.3,141.7 368,100 369.3,68 374.3,62 378,56 382.1,52.3 386,50.5 390.5,50.5 396,51.5 399.9,56.9 403,64 405.8,70.5 408,80 410.3,91.5 414,106 418,122 421.7,143 425,155 428.2,163 431,155 434,145 436,137.8 436.9,128.7 441.4,108.6 445,93 449.3,77.2 452.3,62 455.1,56.4 460.7,52.7 467.2,51.7 472,53 478,57 483.8,66.3 486,69 488.4,150.2 490.2,213.8"/>
<circle cx="369.3" cy="68" r="2.0" fill="#2b78d8"/>
<circle cx="372.04" cy="64.71" r="2.0" fill="#2b78d8"/>
<circle cx="374.78" cy="61.22" r="2.0" fill="#2b78d8"/>
<circle cx="377.52" cy="56.78" r="2.0" fill="#2b78d8"/>
<circle cx="380.26" cy="53.96" r="2.0" fill="#2b78d8"/>
<circle cx="383" cy="51.88" r="2.0" fill="#2b78d8"/>
<circle cx="385.74" cy="50.62" r="2.0" fill="#2b78d8"/>
<circle cx="388.48" cy="50.5" r="2.0" fill="#2b78d8"/>
<circle cx="391.22" cy="50.63" r="2.0" fill="#2b78d8"/>
<circle cx="393.96" cy="51.13" r="2.0" fill="#2b78d8"/>
<circle cx="396.7" cy="52.47" r="2.0" fill="#2b78d8"/>
<circle cx="399.44" cy="56.26" r="2.0" fill="#2b78d8"/>
<circle cx="402.18" cy="62.12" r="2.0" fill="#2b78d8"/>
<circle cx="404.92" cy="68.46" r="2.0" fill="#2b78d8"/>
<circle cx="408" cy="80" r="2.0" fill="#2b78d8"/>
<circle cx="410.74" cy="93.22" r="2.0" fill="#2b78d8"/>
<circle cx="413.48" cy="103.96" r="2.0" fill="#2b78d8"/>
<circle cx="416.22" cy="114.88" r="2.0" fill="#2b78d8"/>
<circle cx="418.96" cy="127.45" r="2.0" fill="#2b78d8"/>
<circle cx="421.7" cy="143" r="2.0" fill="#2b78d8"/>
<circle cx="424.44" cy="152.96" r="2.0" fill="#2b78d8"/>
<circle cx="427.18" cy="160.45" r="2.0" fill="#2b78d8"/>
<circle cx="429.92" cy="158.09" r="2.0" fill="#2b78d8"/>
<circle cx="432.66" cy="149.47" r="2.0" fill="#2b78d8"/>
<circle cx="435.4" cy="139.96" r="2.0" fill="#2b78d8"/>
<circle cx="438.14" cy="123.16" r="2.0" fill="#2b78d8"/>
<circle cx="440.88" cy="110.92" r="2.0" fill="#2b78d8"/>
<circle cx="443.62" cy="98.98" r="2.0" fill="#2b78d8"/>
<circle cx="446.36" cy="88" r="2.0" fill="#2b78d8"/>
<circle cx="449.1" cy="77.93" r="2.0" fill="#2b78d8"/>
<circle cx="451.84" cy="64.33" r="2.0" fill="#2b78d8"/>
<circle cx="454.58" cy="57.44" r="2.0" fill="#2b78d8"/>
<circle cx="457.32" cy="54.93" r="2.0" fill="#2b78d8"/>
<circle cx="460.06" cy="53.12" r="2.0" fill="#2b78d8"/>
<circle cx="462.8" cy="52.38" r="2.0" fill="#2b78d8"/>
<circle cx="465.54" cy="51.96" r="2.0" fill="#2b78d8"/>
<circle cx="468.28" cy="51.99" r="2.0" fill="#2b78d8"/>
<circle cx="471.02" cy="52.73" r="2.0" fill="#2b78d8"/>
<circle cx="473.76" cy="54.17" r="2.0" fill="#2b78d8"/>
<circle cx="476.5" cy="56" r="2.0" fill="#2b78d8"/>
<circle cx="479.24" cy="58.99" r="2.0" fill="#2b78d8"/>
<circle cx="481.98" cy="63.38" r="2.0" fill="#2b78d8"/>
<circle cx="484.72" cy="67.43" r="2.0" fill="#2b78d8"/>
<circle cx="486" cy="69" r="2.0" fill="#2b78d8"/>
<circle cx="366.3" cy="141.7" r="2.0" fill="#2b78d8"/>
<circle cx="366.3" cy="147.3" r="2.0" fill="#2b78d8"/>
<circle cx="488.4" cy="150.2" r="2.0" fill="#2b78d8"/>
<circle cx="488.4" cy="153.5" r="2.0" fill="#2b78d8"/>

<polyline fill="none" stroke="#fb9a1c" stroke-width="1.6" stroke-linejoin="round" points="362.8,213.8 366.3,137 367.3,106.3 368.6,68.5 370.3,64 373.4,57.5 377.2,53.5 381.6,50.3 386,48.5 390.2,49.3 394.1,52 398,59.5 401.9,66.5 404.5,71.5 406.9,84.9 409.2,90.8 412.1,103.5 414.4,110 416.9,119.1 420.5,133.6 425.3,146.8 426.5,149.5 431.3,139.6 433.5,134 435.8,126.5 439.2,113 443.7,96.3 447,83.9 449.3,75 453.2,64.7 458.8,51.5 464.4,48.7 470,46.8 474.2,49.3 479.4,55 484.6,64 486.5,68.5 488.4,139 490,203.5 490.4,213.8"/>
<path d="M368.6 66.07L366.35 70.12L370.85 70.12Z" fill="#ffc772" stroke="#fb9a1c" stroke-width="1.2"/>
<path d="M371.33 59.41L369.08 63.46L373.58 63.46Z" fill="#ffc772" stroke="#fb9a1c" stroke-width="1.2"/>
<path d="M374.06 54.38L371.81 58.43L376.31 58.43Z" fill="#fca13a" stroke="#fb9a1c" stroke-width="1.2"/>
<path d="M376.79 51.5L374.54 55.55L379.04 55.55Z" fill="#fca13a" stroke="#fb9a1c" stroke-width="1.2"/>
<path d="M379.52 49.38L377.27 53.43L381.77 53.43Z" fill="#fca13a" stroke="#fb9a1c" stroke-width="1.2"/>
<path d="M382.25 47.6L380 51.65L384.5 51.65Z" fill="#fca13a" stroke="#fb9a1c" stroke-width="1.2"/>
<path d="M384.98 46.49L382.73 50.54L387.23 50.54Z" fill="#fca13a" stroke="#fb9a1c" stroke-width="1.2"/>
<path d="M387.71 46.4L385.46 50.45L389.96 50.45Z" fill="#fca13a" stroke="#fb9a1c" stroke-width="1.2"/>
<path d="M390.44 47.04L388.19 51.09L392.69 51.09Z" fill="#fca13a" stroke="#fb9a1c" stroke-width="1.2"/>
<path d="M393.17 48.93L390.92 52.98L395.42 52.98Z" fill="#fca13a" stroke="#fb9a1c" stroke-width="1.2"/>
<path d="M395.9 53.03L393.65 57.08L398.15 57.08Z" fill="#fca13a" stroke="#fb9a1c" stroke-width="1.2"/>
<path d="M398.63 58.2L396.38 62.25L400.88 62.25Z" fill="#ffc772" stroke="#fb9a1c" stroke-width="1.2"/>
<path d="M401.36 63.1L399.11 67.15L403.61 67.15Z" fill="#ffc772" stroke="#fb9a1c" stroke-width="1.2"/>
<path d="M404.09 68.28L401.84 72.33L406.34 72.33Z" fill="#ffc772" stroke="#fb9a1c" stroke-width="1.2"/>
<path d="M406.82 82.02L404.57 86.07L409.07 86.07Z" fill="#ffc772" stroke="#fb9a1c" stroke-width="1.2"/>
<path d="M409.55 89.9L407.3 93.95L411.8 93.95Z" fill="#ffc772" stroke="#fb9a1c" stroke-width="1.2"/>
<path d="M412.28 101.58L410.03 105.63L414.53 105.63Z" fill="#ffc772" stroke="#fb9a1c" stroke-width="1.2"/>
<path d="M415.01 109.79L412.76 113.84L417.26 113.84Z" fill="#ffc772" stroke="#fb9a1c" stroke-width="1.2"/>
<path d="M417.74 120.05L415.49 124.1L419.99 124.1Z" fill="#ffc772" stroke="#fb9a1c" stroke-width="1.2"/>
<path d="M420.47 131.05L418.22 135.1L422.72 135.1Z" fill="#ffc772" stroke="#fb9a1c" stroke-width="1.2"/>
<path d="M423.2 138.6L420.95 142.65L425.45 142.65Z" fill="#ffc772" stroke="#fb9a1c" stroke-width="1.2"/>
<path d="M425.93 145.79L423.68 149.84L428.18 149.84Z" fill="#fca13a" stroke="#fb9a1c" stroke-width="1.2"/>
<path d="M428.66 142.61L426.41 146.66L430.91 146.66Z" fill="#fca13a" stroke="#fb9a1c" stroke-width="1.2"/>
<path d="M431.39 136.94L429.14 140.99L433.64 140.99Z" fill="#ffc772" stroke="#fb9a1c" stroke-width="1.2"/>
<path d="M434.12 129.55L431.87 133.6L436.37 133.6Z" fill="#ffc772" stroke="#fb9a1c" stroke-width="1.2"/>
<path d="M436.85 119.9L434.6 123.95L439.1 123.95Z" fill="#ffc772" stroke="#fb9a1c" stroke-width="1.2"/>
<path d="M439.58 109.16L437.33 113.21L441.83 113.21Z" fill="#ffc772" stroke="#fb9a1c" stroke-width="1.2"/>
<path d="M442.31 99.03L440.06 103.08L444.56 103.08Z" fill="#ffc772" stroke="#fb9a1c" stroke-width="1.2"/>
<path d="M445.04 88.83L442.79 92.88L447.29 92.88Z" fill="#ffc772" stroke="#fb9a1c" stroke-width="1.2"/>
<path d="M447.77 78.49L445.52 82.54L450.02 82.54Z" fill="#ffc772" stroke="#fb9a1c" stroke-width="1.2"/>
<path d="M450.5 69.4L448.25 73.45L452.75 73.45Z" fill="#ffc772" stroke="#fb9a1c" stroke-width="1.2"/>
<path d="M453.23 62.2L450.98 66.25L455.48 66.25Z" fill="#ffc772" stroke="#fb9a1c" stroke-width="1.2"/>
<path d="M455.96 55.76L453.71 59.81L458.21 59.81Z" fill="#ffc772" stroke="#fb9a1c" stroke-width="1.2"/>
<path d="M458.69 49.33L456.44 53.38L460.94 53.38Z" fill="#fca13a" stroke="#fb9a1c" stroke-width="1.2"/>
<path d="M461.42 47.76L459.17 51.81L463.67 51.81Z" fill="#fca13a" stroke="#fb9a1c" stroke-width="1.2"/>
<path d="M464.15 46.39L461.9 50.44L466.4 50.44Z" fill="#fca13a" stroke="#fb9a1c" stroke-width="1.2"/>
<path d="M466.88 45.43L464.63 49.48L469.13 49.48Z" fill="#fca13a" stroke="#fb9a1c" stroke-width="1.2"/>
<path d="M469.61 44.5L467.36 48.55L471.86 48.55Z" fill="#fca13a" stroke="#fb9a1c" stroke-width="1.2"/>
<path d="M472.34 45.76L470.09 49.81L474.59 49.81Z" fill="#fca13a" stroke="#fb9a1c" stroke-width="1.2"/>
<path d="M475.07 47.82L472.82 51.87L477.32 51.87Z" fill="#fca13a" stroke="#fb9a1c" stroke-width="1.2"/>
<path d="M477.8 50.82L475.55 54.87L480.05 54.87Z" fill="#fca13a" stroke="#fb9a1c" stroke-width="1.2"/>
<path d="M480.53 54.53L478.28 58.58L482.78 58.58Z" fill="#fca13a" stroke="#fb9a1c" stroke-width="1.2"/>
<path d="M483.26 59.25L481.01 63.3L485.51 63.3Z" fill="#ffc772" stroke="#fb9a1c" stroke-width="1.2"/>
<path d="M485.99 64.86L483.74 68.91L488.24 68.91Z" fill="#ffc772" stroke="#fb9a1c" stroke-width="1.2"/>
<path d="M367.3 103.87L365.05 107.92L369.55 107.92Z" fill="#ffc772" stroke="#fb9a1c" stroke-width="1.2"/>
<path d="M366.3 134.57L364.05 138.62L368.55 138.62Z" fill="#ffc772" stroke="#fb9a1c" stroke-width="1.2"/>
<path d="M488.4 136.57L486.15 140.62L490.65 140.62Z" fill="#ffc772" stroke="#fb9a1c" stroke-width="1.2"/>
<path d="M488.4 153.37L486.15 157.42L490.65 157.42Z" fill="#ffc772" stroke="#fb9a1c" stroke-width="1.2"/>
<path d="M490.3 202.17L488.05 206.22L492.55 206.22Z" fill="#ffc772" stroke="#fb9a1c" stroke-width="1.2"/>

<polyline fill="none" stroke="#16b450" stroke-width="1.7" stroke-linejoin="round" points="362.5,213.8 365.3,140 369.4,100 370.3,67.4 373.7,62.1 376.9,58.2 380.8,54.9 385.4,53 390.2,54.3 393.4,56.9 397.3,66 399.9,71.8 401,75.9 404,84.9 406.2,93.8 407.7,100.5 410,112 412.5,122.5 415.2,132.6 417.2,137.8 419.8,148.2 424.3,154 426.9,155.4 432.8,153.4 435.4,144.3 438.6,133.9 441,120 443.7,107.4 445.9,99.6 448.1,89.5 450.4,83.9 452.6,75 456,66.6 460.7,58.2 466,51.4 470.4,52.9 474.6,55.4 476.4,57.4 480.9,62.6 485.3,67.8 485.6,68 486.6,110 488.8,160 490.2,213.8"/>
<rect x="368.45" y="65.55" width="3.7" height="3.7" fill="#86d8a2" stroke="#16b450" stroke-width="1.3"/>
<rect x="371.19" y="61.28" width="3.7" height="3.7" fill="#2cba5e" stroke="#16b450" stroke-width="1.3"/>
<rect x="373.93" y="57.71" width="3.7" height="3.7" fill="#2cba5e" stroke="#16b450" stroke-width="1.3"/>
<rect x="376.67" y="54.98" width="3.7" height="3.7" fill="#2cba5e" stroke="#16b450" stroke-width="1.3"/>
<rect x="379.41" y="52.86" width="3.7" height="3.7" fill="#2cba5e" stroke="#16b450" stroke-width="1.3"/>
<rect x="382.15" y="51.73" width="3.7" height="3.7" fill="#2cba5e" stroke="#16b450" stroke-width="1.3"/>
<rect x="384.89" y="51.51" width="3.7" height="3.7" fill="#2cba5e" stroke="#16b450" stroke-width="1.3"/>
<rect x="387.63" y="52.26" width="3.7" height="3.7" fill="#2cba5e" stroke="#16b450" stroke-width="1.3"/>
<rect x="390.37" y="54.09" width="3.7" height="3.7" fill="#2cba5e" stroke="#16b450" stroke-width="1.3"/>
<rect x="393.11" y="58.69" width="3.7" height="3.7" fill="#86d8a2" stroke="#16b450" stroke-width="1.3"/>
<rect x="395.85" y="65.04" width="3.7" height="3.7" fill="#86d8a2" stroke="#16b450" stroke-width="1.3"/>
<rect x="398.59" y="71.96" width="3.7" height="3.7" fill="#86d8a2" stroke="#16b450" stroke-width="1.3"/>
<rect x="401.33" y="80.59" width="3.7" height="3.7" fill="#86d8a2" stroke="#16b450" stroke-width="1.3"/>
<rect x="404.07" y="90.82" width="3.7" height="3.7" fill="#86d8a2" stroke="#16b450" stroke-width="1.3"/>
<rect x="406.81" y="103.45" width="3.7" height="3.7" fill="#86d8a2" stroke="#16b450" stroke-width="1.3"/>
<rect x="409.55" y="116.03" width="3.7" height="3.7" fill="#86d8a2" stroke="#16b450" stroke-width="1.3"/>
<rect x="412.29" y="126.78" width="3.7" height="3.7" fill="#86d8a2" stroke="#16b450" stroke-width="1.3"/>
<rect x="415.03" y="135.12" width="3.7" height="3.7" fill="#86d8a2" stroke="#16b450" stroke-width="1.3"/>
<rect x="417.77" y="145.63" width="3.7" height="3.7" fill="#2cba5e" stroke="#16b450" stroke-width="1.3"/>
<rect x="420.51" y="149.65" width="3.7" height="3.7" fill="#2cba5e" stroke="#16b450" stroke-width="1.3"/>
<rect x="423.25" y="152.58" width="3.7" height="3.7" fill="#2cba5e" stroke="#16b450" stroke-width="1.3"/>
<rect x="425.99" y="153.23" width="3.7" height="3.7" fill="#2cba5e" stroke="#16b450" stroke-width="1.3"/>
<rect x="428.73" y="152.3" width="3.7" height="3.7" fill="#2cba5e" stroke="#16b450" stroke-width="1.3"/>
<rect x="431.47" y="149.73" width="3.7" height="3.7" fill="#2cba5e" stroke="#16b450" stroke-width="1.3"/>
<rect x="434.21" y="140.3" width="3.7" height="3.7" fill="#86d8a2" stroke="#16b450" stroke-width="1.3"/>
<rect x="436.95" y="130.89" width="3.7" height="3.7" fill="#86d8a2" stroke="#16b450" stroke-width="1.3"/>
<rect x="439.69" y="115.63" width="3.7" height="3.7" fill="#86d8a2" stroke="#16b450" stroke-width="1.3"/>
<rect x="442.43" y="103.49" width="3.7" height="3.7" fill="#86d8a2" stroke="#16b450" stroke-width="1.3"/>
<rect x="445.17" y="92.61" width="3.7" height="3.7" fill="#86d8a2" stroke="#16b450" stroke-width="1.3"/>
<rect x="447.91" y="83.61" width="3.7" height="3.7" fill="#86d8a2" stroke="#16b450" stroke-width="1.3"/>
<rect x="450.65" y="73.55" width="3.7" height="3.7" fill="#86d8a2" stroke="#16b450" stroke-width="1.3"/>
<rect x="453.39" y="66.63" width="3.7" height="3.7" fill="#86d8a2" stroke="#16b450" stroke-width="1.3"/>
<rect x="456.13" y="61.21" width="3.7" height="3.7" fill="#86d8a2" stroke="#16b450" stroke-width="1.3"/>
<rect x="458.87" y="56.32" width="3.7" height="3.7" fill="#2cba5e" stroke="#16b450" stroke-width="1.3"/>
<rect x="461.61" y="52.81" width="3.7" height="3.7" fill="#2cba5e" stroke="#16b450" stroke-width="1.3"/>
<rect x="464.35" y="49.62" width="3.7" height="3.7" fill="#2cba5e" stroke="#16b450" stroke-width="1.3"/>
<rect x="467.09" y="50.55" width="3.7" height="3.7" fill="#2cba5e" stroke="#16b450" stroke-width="1.3"/>
<rect x="469.83" y="51.81" width="3.7" height="3.7" fill="#2cba5e" stroke="#16b450" stroke-width="1.3"/>
<rect x="472.57" y="53.44" width="3.7" height="3.7" fill="#2cba5e" stroke="#16b450" stroke-width="1.3"/>
<rect x="475.31" y="56.43" width="3.7" height="3.7" fill="#2cba5e" stroke="#16b450" stroke-width="1.3"/>
<rect x="478.05" y="59.59" width="3.7" height="3.7" fill="#2cba5e" stroke="#16b450" stroke-width="1.3"/>
<rect x="480.79" y="62.81" width="3.7" height="3.7" fill="#2cba5e" stroke="#16b450" stroke-width="1.3"/>
<rect x="483.45" y="65.95" width="3.7" height="3.7" fill="#2cba5e" stroke="#16b450" stroke-width="1.3"/>
<rect x="361.65" y="211.75" width="3.7" height="3.7" fill="#86d8a2" stroke="#16b450" stroke-width="1.3"/>
<rect x="362.05" y="192.05" width="3.7" height="3.7" fill="#86d8a2" stroke="#16b450" stroke-width="1.3"/>
<rect x="362.55" y="180.45" width="3.7" height="3.7" fill="#86d8a2" stroke="#16b450" stroke-width="1.3"/>
<rect x="363.15" y="167.05" width="3.7" height="3.7" fill="#86d8a2" stroke="#16b450" stroke-width="1.3"/>
<rect x="368.05" y="64.75" width="3.7" height="3.7" fill="#86d8a2" stroke="#16b450" stroke-width="1.3"/>
<rect x="484.75" y="126.05" width="3.7" height="3.7" fill="#86d8a2" stroke="#16b450" stroke-width="1.3"/>
<rect x="484.75" y="133.85" width="3.7" height="3.7" fill="#86d8a2" stroke="#16b450" stroke-width="1.3"/>
<rect x="487.75" y="187.15" width="3.7" height="3.7" fill="#86d8a2" stroke="#16b450" stroke-width="1.3"/>
<rect x="488.95" y="211.75" width="3.7" height="3.7" fill="#86d8a2" stroke="#16b450" stroke-width="1.3"/>
<rect x="183.2" y="172.2" width="56.1" height="33.1" fill="#fff" stroke="#444" stroke-width="1.2"/>
<line x1="186.3" y1="177.8" x2="204" y2="177.8" stroke="#2b78d8" stroke-width="1.8"/>
<circle cx="195.3" cy="177.8" r="2.5" fill="#2b78d8"/>
<text x="205.2" y="181" font-size="9.3" font-weight="bold" text-anchor="start" fill="#000" stroke="#000" stroke-width="0.18" >Model 1</text>
<line x1="186.3" y1="189" x2="204" y2="189" stroke="#fb9a1c" stroke-width="1.8"/>
<path d="M195.3 186.52L193 190.66L197.6 190.66Z" fill="#ffbe5c" stroke="#fb9a1c" stroke-width="1.2"/>
<text x="205.2" y="192.2" font-size="9.3" font-weight="bold" text-anchor="start" fill="#000" stroke="#000" stroke-width="0.18" >Model 2</text>
<line x1="186.3" y1="199.6" x2="204" y2="199.6" stroke="#16b450" stroke-width="1.8"/>
<rect x="193.4" y="197.7" width="3.8" height="3.8" fill="#62cc8a" stroke="#16b450" stroke-width="1.3"/>
<text x="205.2" y="202.8" font-size="9.3" font-weight="bold" text-anchor="start" fill="#000" stroke="#000" stroke-width="0.18" >Model 3</text>
<rect x="368.4" y="173" width="55.5" height="32.8" fill="#fff" stroke="#444" stroke-width="1.2"/>
<line x1="371.8" y1="178.6" x2="389" y2="178.6" stroke="#2b78d8" stroke-width="1.8"/>
<circle cx="380.4" cy="178.6" r="2.5" fill="#2b78d8"/>
<text x="390.7" y="181.8" font-size="9.3" font-weight="bold" text-anchor="start" fill="#000" stroke="#000" stroke-width="0.18" >Model 1</text>
<line x1="371.8" y1="189.9" x2="389" y2="189.9" stroke="#fb9a1c" stroke-width="1.8"/>
<path d="M380.4 187.42L378.1 191.56L382.7 191.56Z" fill="#ffbe5c" stroke="#fb9a1c" stroke-width="1.2"/>
<text x="390.7" y="193.1" font-size="9.3" font-weight="bold" text-anchor="start" fill="#000" stroke="#000" stroke-width="0.18" >Model 2</text>
<line x1="371.8" y1="200.8" x2="389" y2="200.8" stroke="#16b450" stroke-width="1.8"/>
<rect x="378.5" y="198.9" width="3.8" height="3.8" fill="#62cc8a" stroke="#16b450" stroke-width="1.3"/>
<text x="390.7" y="204" font-size="9.3" font-weight="bold" text-anchor="start" fill="#000" stroke="#000" stroke-width="0.18" >Model 3</text>
</svg></body></html>
